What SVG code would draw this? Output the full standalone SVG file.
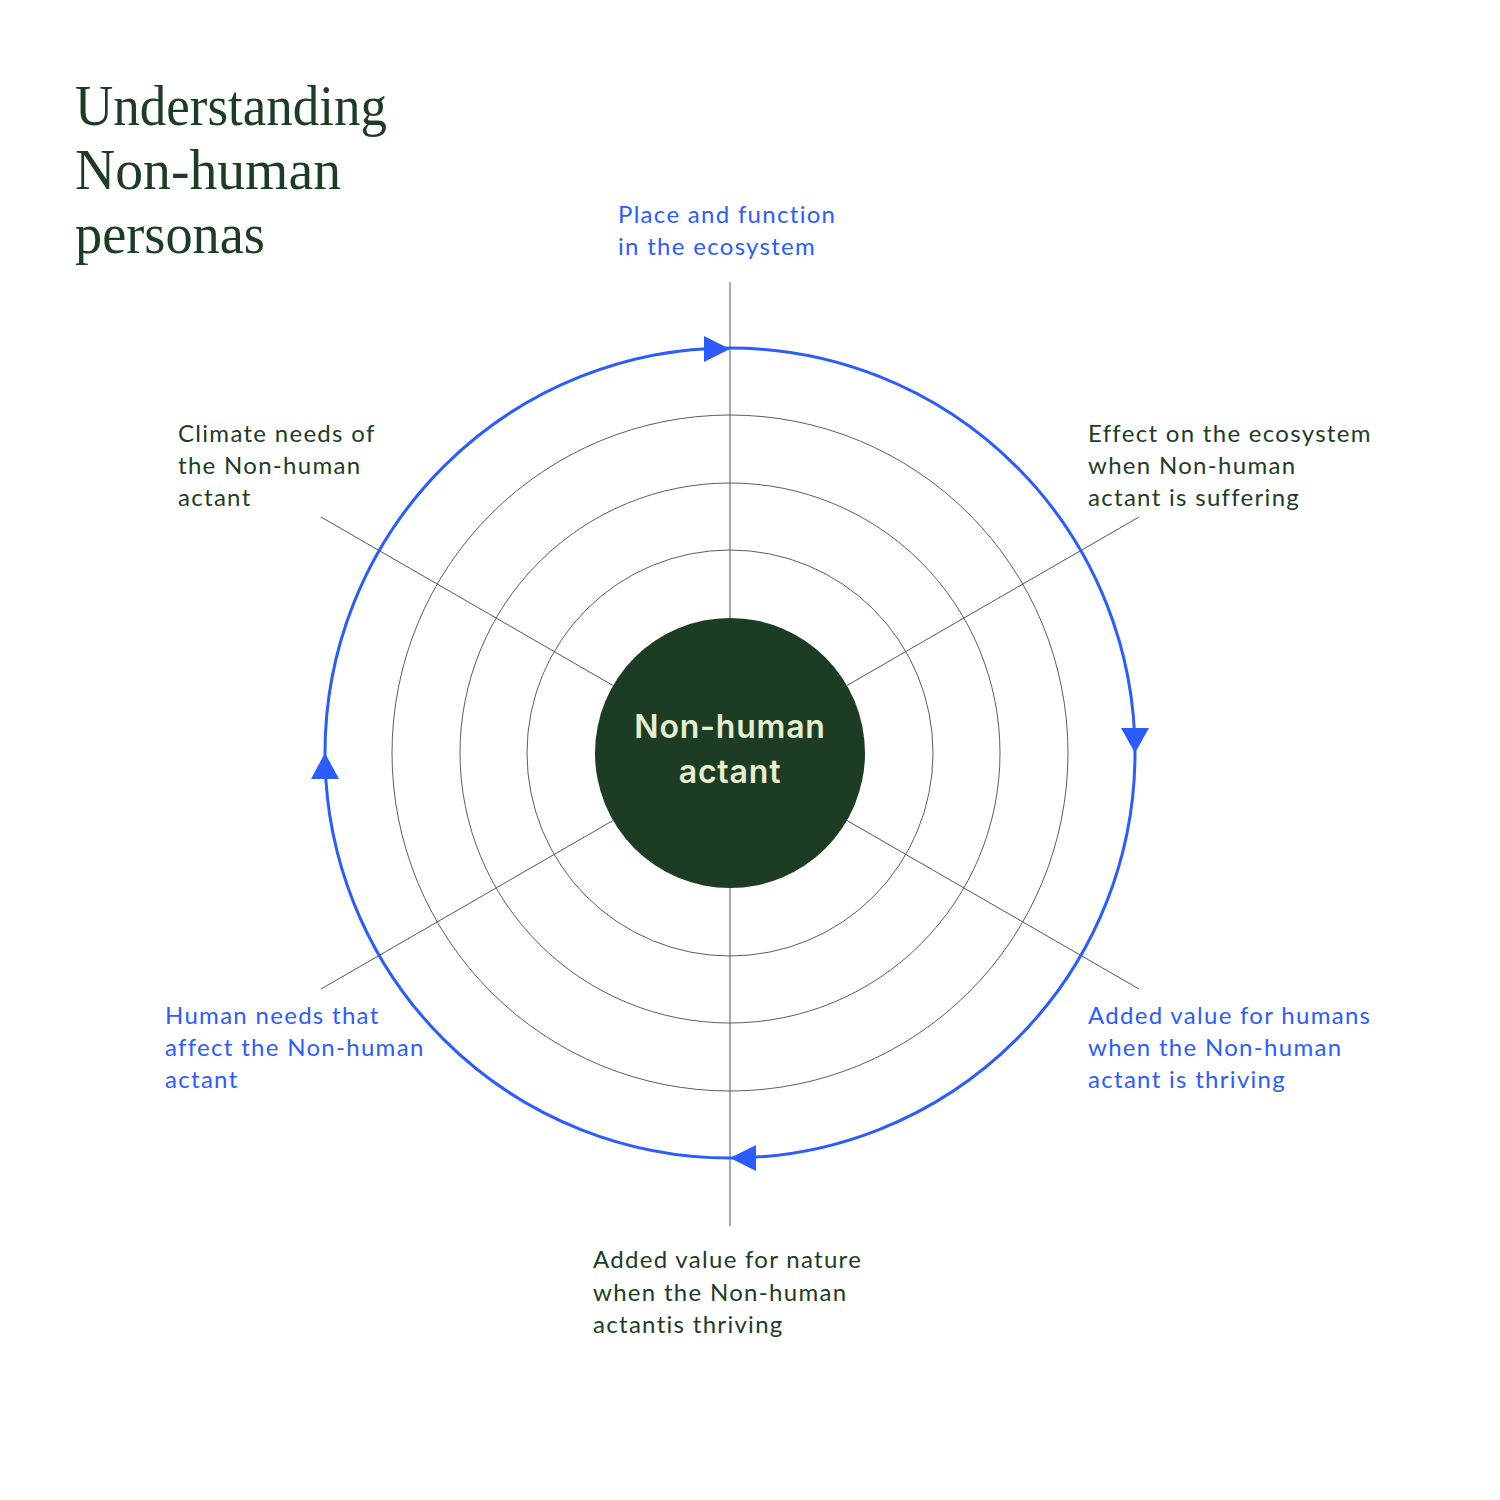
<svg xmlns="http://www.w3.org/2000/svg" width="1500" height="1500" viewBox="0 0 1500 1500">
<style>
.title{font-family:"Liberation Serif","DejaVu Serif",serif;font-size:56px;fill:#1c3d24;font-weight:normal}
.lbl{font-family:Lato,"Open Sans",sans-serif;font-size:24px;letter-spacing:1.3px}
.dark{fill:#1c3d24}
.blue{fill:#2b5cff}
.ring{fill:none;stroke:#333;stroke-width:0.8}
.spoke{stroke:#555;stroke-width:1}
.cyc{fill:none;stroke:#2b5cff;stroke-width:3}
.arr{fill:#2b5cff}
.ctext{font-family:Inter,Lato,sans-serif;font-size:32px;font-weight:600;fill:#e6eecf;text-anchor:middle;letter-spacing:0.8px}
</style>
<rect width="1500" height="1500" fill="#ffffff"/>
<g id="title">
<text class="title" x="75" y="125" textLength="312" lengthAdjust="spacingAndGlyphs">Understanding</text>
<text class="title" x="75" y="189" textLength="266" lengthAdjust="spacingAndGlyphs">Non-human</text>
<text class="title" x="75" y="253" textLength="190" lengthAdjust="spacingAndGlyphs">personas</text>
</g>
<g id="rings">
<circle class="ring" cx="730" cy="753" r="203"/>
<circle class="ring" cx="730" cy="753" r="270"/>
<circle class="ring" cx="730" cy="753" r="338"/>
</g>
<g id="connectors">
<line class="spoke" x1="730" y1="618" x2="730" y2="282"/>
<line class="spoke" x1="730" y1="888" x2="730" y2="1226"/>
<line class="spoke" x1="613" y1="685.5" x2="321" y2="517"/>
<line class="spoke" x1="847" y1="685.5" x2="1139" y2="517"/>
<line class="spoke" x1="613" y1="820.5" x2="321" y2="989"/>
<line class="spoke" x1="847" y1="820.5" x2="1139" y2="989"/>
<circle class="cyc" cx="730" cy="753" r="405"/>
<polygon class="arr" points="730,349 704,336 704,362"/>
<polygon class="arr" points="1135,753 1121,728 1149,728"/>
<polygon class="arr" points="730,1158 756,1145 756,1171"/>
<polygon class="arr" points="325,753 311,779 339,779"/>
</g>
<g id="center-node">
<circle cx="730" cy="753" r="135" fill="#1c3d24"/>
<text class="ctext" x="730" y="738">Non-human</text>
<text class="ctext" x="730" y="783">actant</text>
</g>
<g id="label-top">
<text class="lbl blue" x="618" y="223">Place and function</text>
<text class="lbl blue" x="618" y="255">in the ecosystem</text>
</g>
<g id="label-upper-left">
<text class="lbl dark" x="178" y="442">Climate needs of</text>
<text class="lbl dark" x="178" y="474">the Non-human</text>
<text class="lbl dark" x="178" y="506">actant</text>
</g>
<g id="label-upper-right">
<text class="lbl dark" x="1088" y="442">Effect on the ecosystem</text>
<text class="lbl dark" x="1088" y="474">when Non-human</text>
<text class="lbl dark" x="1088" y="506">actant is suffering</text>
</g>
<g id="label-lower-left">
<text class="lbl blue" x="165" y="1024">Human needs that</text>
<text class="lbl blue" x="165" y="1056">affect the Non-human</text>
<text class="lbl blue" x="165" y="1088">actant</text>
</g>
<g id="label-lower-right">
<text class="lbl blue" x="1088" y="1024">Added value for humans</text>
<text class="lbl blue" x="1088" y="1056">when the Non-human</text>
<text class="lbl blue" x="1088" y="1088">actant is thriving</text>
</g>
<g id="label-bottom">
<text class="lbl dark" x="593" y="1268">Added value for nature</text>
<text class="lbl dark" x="593" y="1301">when the Non-human</text>
<text class="lbl dark" x="593" y="1333">actantis thriving</text>
</g>
</svg>
